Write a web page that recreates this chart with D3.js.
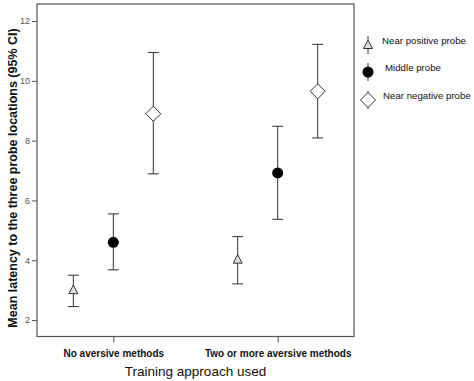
<!DOCTYPE html>
<html><head><meta charset="utf-8">
<script src="https://cdn.jsdelivr.net/npm/d3@7"></script>
<style>body{margin:0;background:#fff}svg{display:block}</style>
</head><body>
<script>
const groups = ["No aversive methods", "Two or more aversive methods"];
const seriesNames = ["Near positive probe", "Middle probe", "Near negative probe"];
// mean, lower CI, upper CI per series, per group
const nearPositive = [{m:3.00,lo:2.45,hi:3.50},{m:4.02,lo:3.21,hi:4.79}];
const middle       = [{m:4.60,lo:3.68,hi:5.55},{m:6.92,lo:5.37,hi:8.48}];
const nearNegative = [{m:8.90,lo:6.89,hi:10.95},{m:9.65,lo:8.09,hi:11.22}];
const yTicks = [2,4,6,8,10,12];
const yTitle = "Mean latency to the three probe locations (95% CI)";
const xTitle = "Training approach used";

const W=474,H=381;
const L=37,R=354,T=4,B=336.5;
const svg=d3.select("body").append("svg").attr("width",W).attr("height",H);
const y=d3.scaleLinear().domain([1.45,12.57]).range([B,T]);
const x=d3.scalePoint().domain(groups).range([113.3,277.7]);
const offsets=[-40,0,40];
const series=[nearPositive,middle,nearNegative];
const axisColor="#555";
const font="Liberation Sans, Arial, sans-serif";

// frame
svg.append("rect").attr("x",L).attr("y",T).attr("width",R-L).attr("height",B-T)
  .attr("fill","none").attr("stroke",axisColor).attr("stroke-width",1.2);

// y axis
const ya=svg.append("g").attr("transform",`translate(${L},0)`)
  .call(d3.axisLeft(y).tickValues(yTicks).tickSize(5).tickPadding(2));
ya.select(".domain").remove();
ya.selectAll("line").attr("stroke",axisColor);
ya.selectAll("text").attr("font-family",font).attr("font-size",9).attr("fill","#555");

// x axis
const xa=svg.append("g").attr("transform",`translate(0,${B})`)
  .call(d3.axisBottom(x).tickSize(6).tickPadding(7));
xa.select(".domain").remove();
xa.selectAll("line").attr("stroke",axisColor);
xa.selectAll("text").attr("font-family",font).attr("font-size",10).attr("font-weight","bold").attr("fill","#111");

// titles
svg.append("text").attr("transform",`translate(16.5,178) rotate(-90)`)
  .attr("text-anchor","middle").attr("font-family",font)
  .attr("font-size",12.5).attr("font-weight","bold").attr("fill","#111").text(yTitle);
svg.append("text").attr("x",(L+R)/2).attr("y",376).attr("text-anchor","middle")
  .attr("font-family",font).attr("font-size",13.5).attr("fill","#111").text(xTitle);

const lineColor="#333";
function drawSymbol(g,k,cx,cy){
  if(k===0){
    g.append("path").attr("d",`M${cx},${cy-5}L${cx+4.5},${cy+3.5}L${cx-4.5},${cy+3.5}Z`)
      .attr("fill","#ddd").attr("stroke","#333").attr("stroke-width",1);
  } else if(k===1){
    g.append("circle").attr("cx",cx).attr("cy",cy).attr("r",5.5).attr("fill","#000");
  } else {
    g.append("path").attr("d",`M${cx},${cy-7.5}L${cx+7.5},${cy}L${cx},${cy+7.5}L${cx-7.5},${cy}Z`)
      .attr("fill","#fff").attr("stroke","#333").attr("stroke-width",1);
  }
}

series.forEach((s,k)=>{
  s.forEach((d,i)=>{
    const cx=x(groups[i])+offsets[k];
    const g=svg.append("g");
    g.append("line").attr("x1",cx).attr("x2",cx).attr("y1",y(d.lo)).attr("y2",y(d.hi)).attr("stroke",lineColor);
    [d.lo,d.hi].forEach(v=>g.append("line").attr("x1",cx-5.5).attr("x2",cx+5.5).attr("y1",y(v)).attr("y2",y(v)).attr("stroke",lineColor));
    drawSymbol(g,k,cx,y(d.m));
  });
});

// legend
const legY=[45,72,100];
seriesNames.forEach((n,k)=>{
  const g=svg.append("g");
  const cx=368, cy=legY[k];
  g.append("line").attr("x1",cx).attr("x2",cx).attr("y1",cy-9).attr("y2",cy+9).attr("stroke",lineColor);
  drawSymbol(g,k,cx,cy);
  g.append("text").attr("x",[382,385,383][k]).attr("y",cy-1).attr("font-family",font)
    .attr("font-size",9.7).attr("fill","#111").text(n);
});
</script>
</body></html>
